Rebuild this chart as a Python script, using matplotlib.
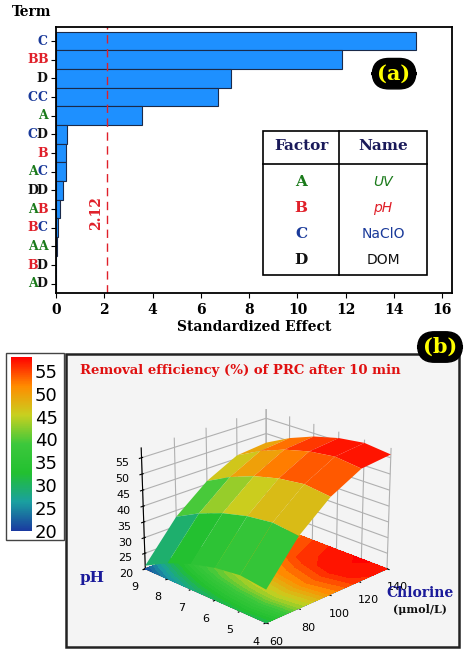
import numpy as np
import matplotlib
matplotlib.use("Agg")
import matplotlib.pyplot as plt
from matplotlib.colors import LinearSegmentedColormap
from matplotlib.patches import Rectangle

terms = ["C", "BB", "D", "CC", "A", "CD", "B", "AC", "DD", "AB", "BC", "AA", "BD", "AD"]
effects = [14.9, 11.85, 7.25, 6.7, 3.55, 0.45, 0.42, 0.42, 0.28, 0.15, 0.1, 0.05, 0.02, 0.02]
threshold = 2.12
factors = ["A", "B", "C", "D"]
names = ["UV", "pH", "NaClO", "DOM"]

chlorine = [60, 80, 100, 120, 140]
ph = [4, 5, 6, 7, 8, 9]
efficiency = [[30, 31, 30, 28, 25, 21],
              [42, 43, 42, 40, 37, 33],
              [50, 51, 50, 48, 45, 41],
              [55, 56, 55, 53, 50, 46],
              [56, 57, 56, 54, 51, 47]]

fcol = {"A": "#1a7a1a", "B": "#e0202a", "C": "#1a3a9a", "D": "#111111"}
serif = "DejaVu Serif"

fig = plt.figure(figsize=(4.74, 6.55), dpi=100)
W, H = 474, 655
def box(x0, y0, x1, y1):
    return [x0 / W, 1 - y1 / H, (x1 - x0) / W, (y1 - y0) / H]

# ---------- panel (a)
ax = fig.add_axes(box(56, 27, 452, 293))
y = np.arange(len(terms))
ax.barh(y, effects, height=1.0, color="#1e90ff", edgecolor="#1a2a4a", linewidth=0.8)
ax.set_ylim(len(terms) - 0.5, -0.75)
ax.set_xlim(0, 16.4)
ax.set_xticks(range(0, 17, 2))
ax.set_yticks(y)
ax.set_yticklabels([""] * len(terms))
for i, t in enumerate(terms):
    for j, ch in enumerate(reversed(t)):
        ax.annotate(ch, xy=(0, i), xycoords=("axes fraction", "data"),
                    xytext=(-6 - 7 * j, 0), textcoords="offset points",
                    ha="right", va="center", fontsize=9, fontweight="bold",
                    family=serif, color=fcol[ch])
for lab in ax.get_xticklabels():
    lab.set_fontweight("bold"); lab.set_family(serif); lab.set_fontsize(10)
ax.axvline(threshold, color="#e0202a", ls=(0, (6, 4)), lw=1)
ax.text(threshold - 0.45, 9.2, "2.12", rotation=90, color="#e0202a", fontsize=10,
        fontweight="bold", family=serif, ha="center", va="center")
ax.set_xlabel("Standardized Effect", fontsize=10, fontweight="bold", family=serif, labelpad=2)
fig.text(12 / W, 1 - 12 / H, "Term", fontsize=10, fontweight="bold", family=serif, va="center")
for s in ax.spines.values():
    s.set_linewidth(1.3)
ax.text(14.0, 1.75, "(a)", fontsize=15, fontweight="bold", family=serif, color="#ffff00",
        ha="center", va="center",
        bbox=dict(boxstyle="round,pad=0.25,rounding_size=0.8", fc="black", ec="black"))
# table
tx0, tx1, tmid = 263 / W, 427 / W, 339 / W
ty0, ty1, thead = 1 - 131 / H, 1 - 275 / H, 1 - 164 / H
fig.add_artist(Rectangle((tx0, ty1), tx1 - tx0, ty0 - ty1, transform=fig.transFigure,
                         fill=False, ec="black", lw=1.2))
fig.add_artist(plt.Line2D([tmid, tmid], [ty1, ty0], transform=fig.transFigure, color="black", lw=1.2))
fig.add_artist(plt.Line2D([tx0, tx1], [thead, thead], transform=fig.transFigure, color="black", lw=1.2))
fig.text((tx0 + tmid) / 2, 1 - 146 / H, "Factor", ha="center", va="center", fontsize=11,
         fontweight="bold", family=serif, color="#1a1a5a")
fig.text((tmid + tx1) / 2, 1 - 146 / H, "Name", ha="center", va="center", fontsize=11,
         fontweight="bold", family=serif, color="#1a1a5a")
for k, (f, n) in enumerate(zip(factors, names)):
    yy = 1 - (182 + 26 * k) / H
    fig.text((tx0 + tmid) / 2, yy, f, ha="center", va="center", fontsize=11, fontweight="bold",
             family=serif, color=fcol[f])
    fig.text((tmid + tx1) / 2, yy, n, ha="center", va="center", fontsize=10,
             style="italic" if k < 2 else "normal", color=fcol[f])

# ---------- panel (b)
cmap = LinearSegmentedColormap.from_list("rs", ["#1a3aa0", "#1aa0a0", "#22c030", "#3cc83c",
                                                "#c8d020", "#ff8c00", "#ff0000"])
fig.add_artist(Rectangle((66 / W, 1 - 647 / H), 393 / W, 293 / H, transform=fig.transFigure,
                         fc="#f4f4f4", ec="#222222", lw=1.8, zorder=-5))
fig.add_artist(Rectangle((6 / W, 1 - 540 / H), 58 / W, 187 / H, transform=fig.transFigure,
                         fc="white", ec="#444444", lw=1, zorder=-5))
fig.text(80 / W, 1 - 370 / H, "Removal efficiency (%) of PRC after 10 min", color="#e01010",
         fontsize=9.5, fontweight="bold", family=serif, va="center")
fig.text(440 / W, 1 - 347 / H, "(b)", fontsize=15, fontweight="bold", family=serif,
         color="#ffff00", ha="center", va="center",
         bbox=dict(boxstyle="round,pad=0.25,rounding_size=0.8", fc="black", ec="black"))

ax3 = fig.add_axes(box(70, 378, 455, 648), projection="3d")
ax3.set_facecolor("none")
ax3.patch.set_alpha(0)
C, P = np.meshgrid(chlorine, ph, indexing="ij")
Z = np.array(efficiency, dtype=float)
ax3.plot_surface(C, P, Z, cmap=cmap, vmin=20, vmax=57, linewidth=0, antialiased=True, shade=True)
ax3.contourf(C, P, Z, levels=np.linspace(20, 58, 30), zdir="z", offset=20, cmap=cmap, vmin=20, vmax=57)
ax3.set_xlim(60, 140); ax3.set_ylim(4, 9); ax3.set_zlim(20, 58)
ax3.set_xticks(chlorine); ax3.set_yticks(ph); ax3.set_zticks(range(20, 60, 5))
ax3.tick_params(labelsize=8, pad=0)
ax3.view_init(elev=22, azim=-135)
for a in (ax3.xaxis, ax3.yaxis, ax3.zaxis):
    a.set_pane_color((0.95, 0.95, 0.95, 0.0))
fig.text(80 / W, 1 - 582 / H, "pH", color="#1a1a9a", fontsize=11, fontweight="bold", family=serif)
fig.text(420 / W, 1 - 597 / H, "Chlorine", color="#1a1a9a", fontsize=10, fontweight="bold",
         family=serif, ha="center")
fig.text(420 / W, 1 - 613 / H, "(μmol/L)", color="#111111", fontsize=8, fontweight="bold",
         family=serif, ha="center")

# colorbar
cax = fig.add_axes(box(11, 357, 32, 531))
sm = matplotlib.cm.ScalarMappable(cmap=cmap, norm=plt.Normalize(20, 58))
cb = fig.colorbar(sm, cax=cax, ticks=range(20, 60, 5))
cb.outline.set_visible(False)
cb.ax.tick_params(length=0, labelsize=13, pad=2)

fig.savefig("out.png", dpi=100)
